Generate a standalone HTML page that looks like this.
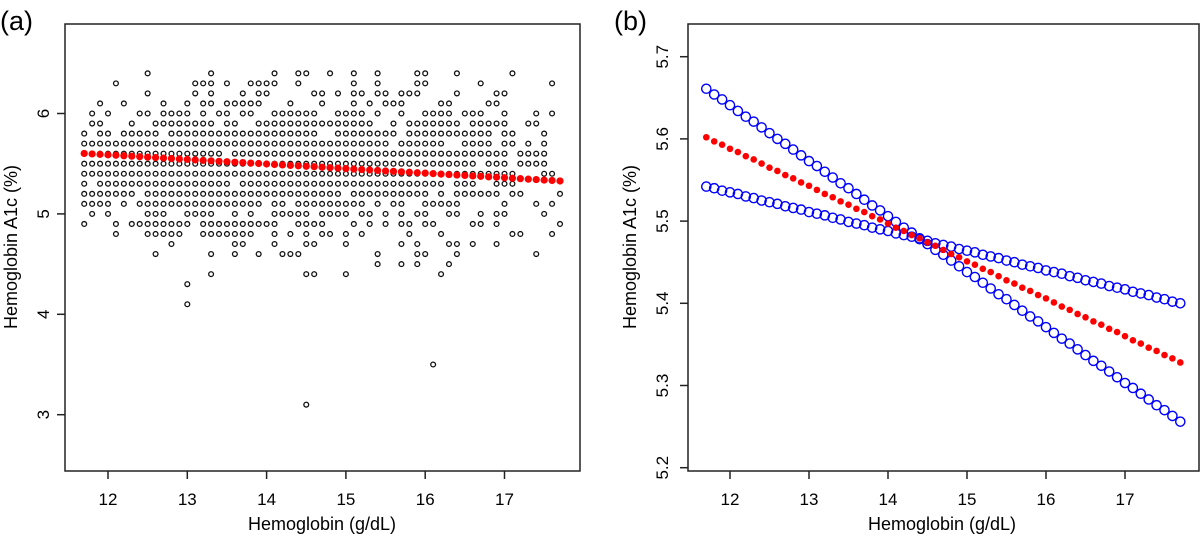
<!DOCTYPE html>
<html><head><meta charset="utf-8"><style>
html,body{margin:0;padding:0;background:#fff;}
svg{display:block;font-family:"Liberation Sans",Arial,sans-serif;}
</style></head><body>
<svg id="fig" width="1200" height="537" viewBox="0 0 1200 537"></svg>
<script>
// ---- data ----
const hbStart = 11.7;      // first hemoglobin column (g/dL)
const hbStep = 0.1;
const scatterRowsY = [6.4,6.3,6.2,6.1,6.0,5.9,5.8,5.7,5.6,5.5,5.4,5.3,5.2,5.1,5.0,4.9,4.8,4.7,4.6,4.5,4.4,4.3,4.1,3.5,3.1];
const scatterRowCols = [
"8,16,24,27,28,31,34,37,42,43,47,54",
"4,14-16,18,21-24,27,34,37,42,43,50,59",
"8,14,16,20,22,23,29,30,32,34,35,37,38,40-42,47,52,53",
"2,5,10,13,15,16,18-22,26,30,34,36,38-40,45,46,51,52",
"1,3,7,8,10-13,15,17,18,20,21,24-29,32-35,37,40,43-46,48-50,53,57,59",
"1,2,6,9-16,18,19,22-36,39,41-47,49-53,56,57",
"0,2,3,5-9,11-29,32-39,41-51,53,54,58",
"0-38,40-45,48-51,53,54,56,58",
"0-17,19-53,55-58",
"0-49,51-53,55-58",
"0-54,58,59",
"0,2-18,20-45,47-49,52-54",
"0-6,8-32,34-43,45,47-52,54,55,60",
"0-3,5,7-22,24,25,27-35,37,39,40,43-47,53,57,59",
"1,3,8-10,13-16,19,21,24-28,30-33,35,36,38,40,42,43,46,47,50,52,53,58",
"0,4,6-13,15-24,27-30,34,36,38,40,41,43,44,49,50,52,60",
"4,8-12,15-21,24,26,28,30,31,33,35,41,45,54,55,59",
"11,19,20,24,28,29,33,40,42,46,47,49,52",
"9,16,19,22,25-27,37,42,43,47,57",
"37,40,42,46",
"16,28,29,33,45",
"13","13","44","28"];
const fitX = [11.7,11.8,11.9,12.0,12.1,12.2,12.3,12.4,12.5,12.6,12.7,12.8,12.9,13.0,13.1,13.2,13.3,13.4,13.5,13.6,13.7,13.8,13.9,14.0,14.1,14.2,14.3,14.4,14.5,14.6,14.7,14.8,14.9,15.0,15.1,15.2,15.3,15.4,15.5,15.6,15.7,15.8,15.9,16.0,16.1,16.2,16.3,16.4,16.5,16.6,16.7,16.8,16.9,17.0,17.1,17.2,17.3,17.4,17.5,17.6,17.7];
const fitMean = [5.602,5.597,5.593,5.588,5.584,5.579,5.575,5.570,5.565,5.561,5.556,5.552,5.547,5.543,5.538,5.533,5.529,5.524,5.520,5.515,5.511,5.506,5.502,5.497,5.492,5.488,5.483,5.479,5.474,5.470,5.465,5.460,5.456,5.451,5.447,5.442,5.438,5.433,5.428,5.424,5.419,5.415,5.410,5.406,5.401,5.396,5.392,5.387,5.383,5.378,5.374,5.369,5.365,5.360,5.355,5.351,5.346,5.342,5.337,5.333,5.328];
const fitUpper = [5.661,5.654,5.648,5.641,5.634,5.627,5.621,5.614,5.607,5.600,5.594,5.587,5.580,5.573,5.567,5.560,5.553,5.546,5.540,5.533,5.526,5.519,5.513,5.506,5.499,5.492,5.486,5.479,5.472,5.465,5.459,5.452,5.445,5.438,5.432,5.425,5.418,5.411,5.405,5.398,5.391,5.384,5.378,5.371,5.364,5.357,5.351,5.344,5.337,5.330,5.324,5.317,5.310,5.303,5.297,5.290,5.283,5.276,5.270,5.263,5.256];
const fitLower = [5.542,5.540,5.537,5.535,5.533,5.530,5.528,5.525,5.523,5.521,5.518,5.516,5.514,5.511,5.509,5.507,5.504,5.502,5.499,5.497,5.495,5.492,5.490,5.488,5.485,5.483,5.481,5.478,5.476,5.473,5.471,5.469,5.466,5.464,5.462,5.459,5.457,5.455,5.452,5.450,5.447,5.445,5.443,5.440,5.438,5.436,5.433,5.431,5.428,5.426,5.424,5.421,5.419,5.417,5.414,5.412,5.410,5.407,5.405,5.402,5.400];
const xTicks = [12,13,14,15,16,17];
const yTicksA = [3,4,5,6];
const yTicksB = [5.2,5.3,5.4,5.5,5.6,5.7];

// ---- helpers ----
const NS='http://www.w3.org/2000/svg';
const svg=document.getElementById('fig');
function mk(tag,attrs,parent,text){const e=document.createElementNS(NS,tag);for(const k in attrs)e.setAttribute(k,attrs[k]);if(text!==undefined)e.textContent=text;(parent||svg).appendChild(e);return e;}
function parseCols(s){const out=[];s.split(',').forEach(p=>{const r=p.split('-').map(Number);if(r.length===1)out.push(r[0]);else for(let i=r[0];i<=r[1];i++)out.push(i);});return out;}

// ---- panel A ----
const xA=v=>108+(v-12)*79.3;
const yA=v=>113.5+(6-v)*100.4;
const gA=mk('g',{});


let t=mk('text',{x:0,y:30,'font-size':27},gA,'(a)');

let r=mk('rect',{x:65,y:24,width:515,height:447,fill:'none',stroke:'#222','stroke-width':1.5},gA);

xTicks.forEach(v=>{mk('line',{x1:xA(v),x2:xA(v),y1:471,y2:479,stroke:'#222','stroke-width':1.5},gA);
 const tt=mk('text',{x:xA(v),y:505,'font-size':17,'text-anchor':'middle'},gA,String(v));
 });
yTicksA.forEach(v=>{mk('line',{x1:57,x2:65,y1:yA(v),y2:yA(v),stroke:'#222','stroke-width':1.5},gA);
 const tt=mk('text',{x:49,y:yA(v),'font-size':17,'text-anchor':'middle',transform:`rotate(-90 49 ${yA(v)})`},gA,String(v));
 });
t=mk('text',{x:322,y:530,'font-size':18,'text-anchor':'middle'},gA,'Hemoglobin (g/dL)');

t=mk('text',{x:17,y:247,'font-size':18,'text-anchor':'middle',transform:'rotate(-90 17 247)'},gA,'Hemoglobin A1c (%)');

scatterRowsY.forEach((yv,ri)=>{parseCols(scatterRowCols[ri]).forEach(c=>{
 const xv=hbStart+c*hbStep;
 const p=mk('circle',{cx:xA(xv),cy:yA(yv),r:2.4,fill:'none',stroke:'#111','stroke-width':1.3},gA);
 
 });});
fitX.forEach((xv,i)=>{const p=mk('circle',{cx:xA(xv),cy:yA(fitMean[i]),r:3.6,fill:'#f00'},gA);
 
 });

// ---- panel B ----
const xB=v=>730+(v-12)*79;
const yB=v=>467.7-(v-5.2)*822;
const gB=mk('g',{});


t=mk('text',{x:614,y:30,'font-size':27},gB,'(b)');

r=mk('rect',{x:688,y:24,width:511,height:447,fill:'none',stroke:'#222','stroke-width':1.5},gB);

xTicks.forEach(v=>{mk('line',{x1:xB(v),x2:xB(v),y1:471,y2:479,stroke:'#222','stroke-width':1.5},gB);
 const tt=mk('text',{x:xB(v),y:505,'font-size':17,'text-anchor':'middle'},gB,String(v));
 });
yTicksB.forEach(v=>{mk('line',{x1:680,x2:688,y1:yB(v),y2:yB(v),stroke:'#222','stroke-width':1.5},gB);
 const tt=mk('text',{x:668,y:yB(v),'font-size':17,'text-anchor':'middle',transform:`rotate(-90 668 ${yB(v)})`},gB,v.toFixed(1));
 });
t=mk('text',{x:942,y:530,'font-size':18,'text-anchor':'middle'},gB,'Hemoglobin (g/dL)');

t=mk('text',{x:636,y:247,'font-size':18,'text-anchor':'middle',transform:'rotate(-90 636 247)'},gB,'Hemoglobin A1c (%)');

fitX.forEach((xv,i)=>{
 const u=mk('circle',{cx:xB(xv),cy:yB(fitUpper[i]),r:4.6,fill:'none',stroke:'#00f','stroke-width':1.4},gB);
 
 
 const l=mk('circle',{cx:xB(xv),cy:yB(fitLower[i]),r:4.6,fill:'none',stroke:'#00f','stroke-width':1.4},gB);
 
 });
fitX.forEach((xv,i)=>{const p=mk('circle',{cx:xB(xv),cy:yB(fitMean[i]),r:3.3,fill:'#f00'},gB);
 
 });
</script>
</body></html>
